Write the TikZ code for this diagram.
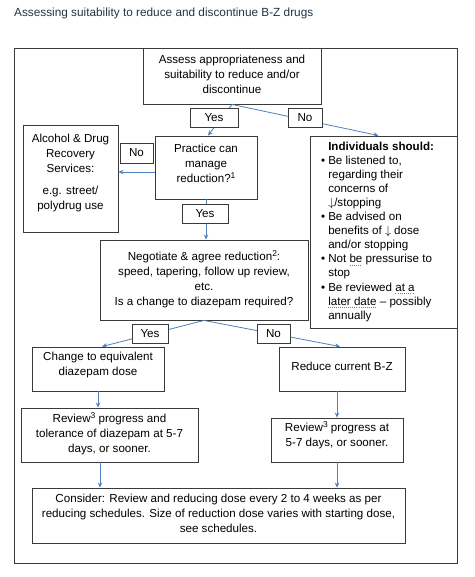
\documentclass[tikz,border=0pt]{standalone}
\usepackage{fontspec}
\setmainfont{Liberation Sans}
\usetikzlibrary{arrows.meta,calc}
\definecolor{arrblue}{HTML}{4F81BD}
\definecolor{boxgray}{HTML}{3A3A3A}
\definecolor{titlecol}{HTML}{243447}
\definecolor{spellcol}{HTML}{6F6FD0}
\newcommand{\supnum}[1]{\raisebox{4pt}{\fontsize{8.5}{10}\selectfont #1}}
\newsavebox{\spellbox}
\newcommand{\spelldot}[1]{\sbox{\spellbox}{#1}\rlap{\raisebox{-2.8pt}{\textcolor{spellcol}{\hbox to \wd\spellbox{\xleaders\hbox{\rule{1pt}{0.7pt}\hspace{1pt}}\hfill}}}}\usebox{\spellbox}}
\begin{document}
\begin{tikzpicture}[x=1pt,y=-1pt,
  box/.style={draw=boxgray,line width=0.9pt,inner sep=0pt,fill=white},
  txt/.style={inner sep=0pt,align=center,font=\fontsize{11.6}{15}\selectfont},
  lab/.style={draw=boxgray,line width=0.9pt,fill=white,inner sep=0pt,font=\fontsize{11.6}{15}\selectfont},
  arr/.style={draw=arrblue,line width=0.8pt,-{Stealth[length=5pt,width=4.5pt]}}]
\useasboundingbox (0,0) rectangle (474,577);
\fill[white] (0,0) rectangle (474,577);
% title
\node[anchor=west,inner sep=0pt,text=titlecol,font=\fontsize{11.8}{14}\selectfont] (title) at (14,13) {Assessing suitability to reduce and discontinue B-Z drugs};
% frame
\draw[boxgray,line width=0.9pt] (14,48) rectangle (457,563);
% boxes
\node[box,minimum width=178pt,minimum height=56pt] (a1) at (232,76) {};
\node[txt] (a1t) at (232,74) {Assess appropriateness and\\suitability to reduce and/or\\discontinue};
\node[box,minimum width=102pt,minimum height=63pt] (prac) at (206,167.5) {};
\node[txt] (pract) at (206,163) {Practice can\\manage\\reduction?\supnum{1}};
\node[box,minimum width=95pt,minimum height=107pt] (alc) at (70.5,178.5) {};
\node[txt] (alct) at (70.5,173.5) {Alcohol \& Drug\\Recovery\\Services:\\[7pt]e.g. street/\\polydrug use};
\node[box,minimum width=147pt,minimum height=192pt] (ind) at (383.5,232) {};
\node[inner sep=0pt,anchor=north west,align=left,font=\fontsize{11.6}{14.1}\selectfont] (indt) at (321,140) {%
\renewcommand{\arraystretch}{1}%
\begin{tabular}{@{}l@{\hspace{3pt}}l@{}}
 & \textbf{Individuals should:}\\
\textbullet & Be listened to,\\
 & regarding their\\
 & concerns of\\
 & $\downarrow$/stopping\\
\textbullet & Be advised on\\
 & benefits of $\downarrow$ dose\\
 & and/or stopping\\
\textbullet & Not \spelldot{be} pressurise to\\
 & stop\\
\textbullet & Be reviewed \spelldot{at a}\\
 & \spelldot{later date} -- possibly\\
 & annually
\end{tabular}};
\node[box,minimum width=208pt,minimum height=80pt] (neg) at (204,280) {};
\node[txt] (negt) at (204,279) {Negotiate \& agree reduction\supnum{2}:\\speed, tapering, follow up review,\\etc.\\Is a change to diazepam required?};
\node[box,minimum width=132pt,minimum height=44pt] (chg) at (98,369) {};
\node[txt] (chgt) at (98,364.5) {Change to equivalent\\diazepam dose};
\node[box,minimum width=126pt,minimum height=44pt] (red) at (342,369) {};
\node[txt] (redt) at (342,366) {Reduce current B-Z};
\node[box,minimum width=177pt,minimum height=54pt] (rev1) at (109.5,435) {};
\node[txt] (rev1t) at (109.5,434) {Review\supnum{3} progress and\\tolerance of diazepam at 5-7\\days, or sooner.};
\node[box,minimum width=132pt,minimum height=44pt] (rev2) at (337,440) {};
\node[txt] (rev2t) at (337,435.5) {Review\supnum{3} progress at\\5-7 days, or sooner.};
\node[box,minimum width=373pt,minimum height=55pt] (cons) at (218.5,515.5) {};
\node[txt] (const) at (218.5,513.5) {Consider: Review and reducing dose every 2 to 4 weeks as per\\reducing schedules. Size of reduction dose varies with starting dose,\\see schedules.};
% arrows
\draw[arr] (a1.south) -- ([xshift=2pt]prac.north);
\draw[arr] (a1.south) -- ([xshift=-5pt]ind.north);
\draw[arr] ([yshift=-4.5pt]prac.west) -- ([yshift=-4.5pt]prac.west -| alc.east);
\draw[arr] (prac.south) -- (prac.south |- neg.north);
\draw[arr] (neg.south) -- ([xshift=4pt]chg.north);
\draw[arr] (neg.south) -- ([xshift=-2pt]red.north);
\draw[arr] (chg.south) -- (chg.south |- rev1.north);
\draw[arr] (rev2.north |- red.south) -- (rev2.north);
\draw[arr] ([xshift=-9.5pt]rev1.south) -- ([xshift=-9.5pt]rev1.south |- cons.north);
\draw[arr] (rev2.south) -- (rev2.south |- cons.north);
% labels
\node[lab,minimum width=48pt,minimum height=19pt] (yes1) at (214,117.5) {Yes};
\node[lab,minimum width=34pt,minimum height=19pt] (no1) at (305,117.5) {No};
\node[lab,minimum width=33pt,minimum height=20pt] (no2) at (136.5,153) {No};
\node[lab,minimum width=46pt,minimum height=19pt] (yes2) at (205,213.5) {Yes};
\node[lab,minimum width=36pt,minimum height=19pt] (yes3) at (150,333.5) {Yes};
\node[lab,minimum width=33pt,minimum height=19pt] (no3) at (273.5,333.5) {No};
\end{tikzpicture}
\end{document}
